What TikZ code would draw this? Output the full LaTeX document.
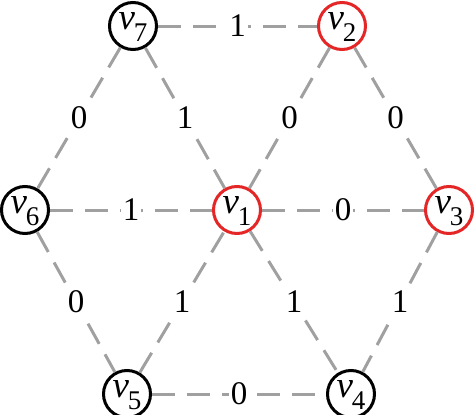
\documentclass[tikz,border=0pt]{standalone}
\usepackage{fontspec}
\setmainfont{Liberation Serif}
\definecolor{edgegray}{RGB}{160,160,160}
\definecolor{nodered}{RGB}{228,38,38}
\newcommand{\vlab}[1]{\raisebox{0pt}[20pt][14pt]{{\fontsize{37}{37}\selectfont\itshape v}\kern-1pt\raisebox{-12pt}{\fontsize{27}{27}\selectfont #1}}}
\begin{document}
\begin{tikzpicture}[x=1pt,y=-1pt,
  vtx/.style={circle,draw=black,line width=3pt,minimum size=47pt,inner sep=0pt,fill=white},
  redvtx/.style={vtx,draw=nodered},
  edge/.style={draw=edgegray,line width=3pt,dash pattern=on 23pt off 12pt},
  wlabel/.style={fill=white,inner sep=2pt,font=\fontsize{33}{33}\selectfont}]
\useasboundingbox (0,0) rectangle (474,415);
\node[vtx] (v7) at (133,26) {\vlab{7}};
\node[redvtx] (v2) at (342,26) {\vlab{2}};
\node[vtx] (v6) at (25,210) {\vlab{6}};
\node[redvtx] (v1) at (237,210) {\vlab{1}};
\node[redvtx] (v3) at (449,210) {\vlab{3}};
\node[vtx] (v5) at (127,394) {\vlab{5}};
\node[vtx] (v4) at (351,394) {\vlab{4}};
\path[edge] (v7) -- node[wlabel] (l1) {1} (v2);
\path[edge] (v7) -- node[wlabel] (l2) {0} (v6);
\path[edge] (v7) -- node[wlabel] (l3) {1} (v1);
\path[edge] (v2) -- node[wlabel] (l4) {0} (v1);
\path[edge] (v2) -- node[wlabel] (l5) {0} (v3);
\path[edge] (v6) -- node[wlabel] (l6) {1} (v1);
\path[edge] (v1) -- node[wlabel] (l7) {0} (v3);
\path[edge] (v6) -- node[wlabel] (l8) {0} (v5);
\path[edge] (v5) -- node[wlabel] (l9) {1} (v1);
\path[edge] (v1) -- node[wlabel] (l10) {1} (v4);
\path[edge] (v3) -- node[wlabel] (l11) {1} (v4);
\path[edge] (v5) -- node[wlabel] (l12) {0} (v4);
\end{tikzpicture}
\end{document}
